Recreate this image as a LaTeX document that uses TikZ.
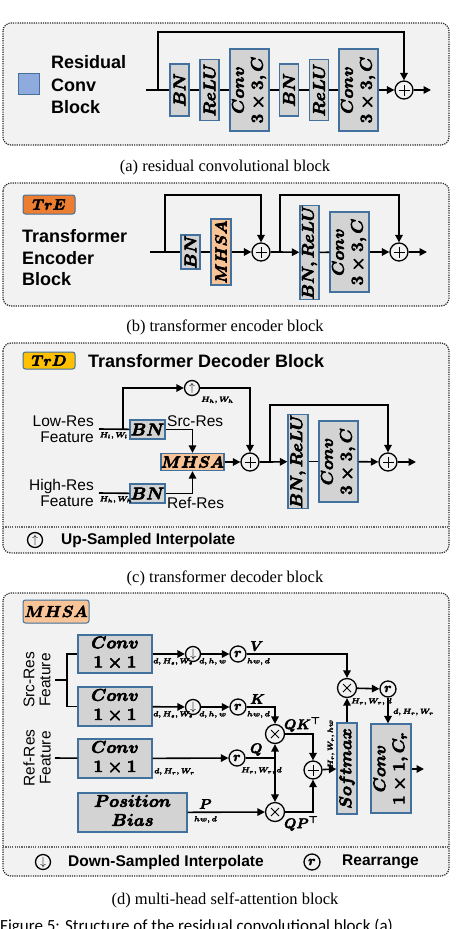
\RequirePackage{fix-cm}
\documentclass[tikz,border=0pt]{standalone}
\usepackage[no-math]{fontspec}
\setmainfont{Liberation Serif}
\setsansfont{Liberation Sans}
\newfontfamily\figfont{Carlito}
\usepackage{graphicx}
\usetikzlibrary{arrows.meta,calc}
\definecolor{panelbg}{HTML}{F2F2F2}
\definecolor{bgray}{HTML}{D3D3D3}
\definecolor{bblue}{HTML}{41719C}
\definecolor{sqblue}{HTML}{8FAADC}
\definecolor{tre}{HTML}{ED7D31}
\definecolor{mhsa}{HTML}{F8C497}
\definecolor{trd}{HTML}{FFC000}
\newcommand{\rtx}[1]{\rotatebox{90}{#1}}
\newcommand{\two}[2]{\begin{tabular}{@{}c@{}}$#1$\\$#2$\end{tabular}}
\newcommand{\heavyon}[1]{\special{pdf:code q 0 G 2 Tr #1 w}}
\newcommand{\heavyoff}{\special{pdf:code Q}}
\tikzset{
  heavy/.style={execute at begin node={\heavyon{#1}}, execute at end node={\heavyoff}},
  panel/.style={draw=black!85, fill=panelbg, line width=1.2pt, dash pattern=on 1.2pt off 1.1pt, rounded corners=8pt},
  divider/.style={draw=black!60, line width=1.1pt, dash pattern=on 1.2pt off 1.1pt},
  blk/.style={draw=bblue, fill=bgray, line width=1.3pt, inner sep=0pt, heavy=0.6, font=\boldmath\fontsize{17}{19}\selectfont},
  bx/.style n args={2}{blk, minimum width=#1pt, minimum height=#2pt},
  tagbox/.style={draw=bblue, line width=1pt, rounded corners=2.5pt, inner sep=0pt, heavy=0.5, font=\boldmath\fontsize{15}{17}\selectfont},
  ln/.style={line width=1.6pt},
  arr/.style={line width=1.6pt, -{Triangle[length=7.5pt,width=7.5pt]}},
  oplus/.style={circle, draw, line width=1.3pt, minimum size=18pt, inner sep=0pt, fill=panelbg,
    path picture={\draw[line width=1pt] ($(path picture bounding box.center)+(-5.5pt,0pt)$) -- ($(path picture bounding box.center)+(5.5pt,0pt)$);
                  \draw[line width=1pt] ($(path picture bounding box.center)+(0pt,-5.5pt)$) -- ($(path picture bounding box.center)+(0pt,5.5pt)$);}},
  otimes/.style={circle, draw, line width=1.3pt, minimum size=19pt, inner sep=0pt, fill=panelbg,
    path picture={\draw[line width=1pt] ($(path picture bounding box.center)+(-4pt,-4pt)$) -- ($(path picture bounding box.center)+(4pt,4pt)$);
                  \draw[line width=1pt] ($(path picture bounding box.center)+(-4pt,4pt)$) -- ($(path picture bounding box.center)+(4pt,-4pt)$);}},
  circ/.style={circle, draw, line width=1.3pt, minimum size=15pt, inner sep=0pt, fill=panelbg, font=\fontsize{12}{12}\selectfont},
  rc/.style={circle, draw, line width=1.3pt, minimum size=16pt, inner sep=0pt, fill=panelbg, heavy=0.4, font=\boldmath\fontsize{14}{14}\selectfont},
  lb/.style={inner sep=0pt, heavy=0.2, font=\boldmath\fontsize{7.5}{8}\selectfont},
  lbig/.style={inner sep=0pt, heavy=0.4, font=\boldmath\fontsize{14}{16}\selectfont},
  ttl/.style={inner sep=0pt, anchor=west, align=left, font=\sffamily\bfseries\fontsize{18}{21.5}\selectfont},
  txt/.style={inner sep=0pt, font=\sffamily\fontsize{15.5}{16}\selectfont},
  leg/.style={inner sep=0pt, anchor=west, font=\sffamily\bfseries\fontsize{15.5}{17}\selectfont},
  captxt/.style={inner sep=0pt, font=\fontsize{16.5}{18}\selectfont}
}
\begin{document}
\begin{tikzpicture}[x=1pt,y=-1pt]
\useasboundingbox (0,0) rectangle (474,929);
% ---------------- (a)
\draw[panel] (3,23) rectangle (449,145);
\node[draw=bblue, fill=sqblue, line width=1pt, minimum size=21pt, inner sep=0pt] (sq) at (28.5,84) {};
\node[ttl, font=\sffamily\bfseries\fontsize{18}{22.5}\selectfont] (ta) at (51,85) {Residual\\Conv\\Block};
\coordinate (ain) at (146,90);
\coordinate (askip) at (158,90);
\node[bx={19}{52}] (abn1) at (179.5,90) {\rtx{$BN$}};
\node[bx={19}{61}] (arl1) at (209.5,90) {\rtx{$ReLU$}};
\node[bx={39}{82}] (acv1) at (249.5,90) {\rtx{\two{Conv}{3\times3,C}}};
\node[bx={19}{52}] (abn2) at (289,90) {\rtx{$BN$}};
\node[bx={19}{61}] (arl2) at (319,90) {\rtx{$ReLU$}};
\node[bx={39}{82}] (acv2) at (358.5,90) {\rtx{\two{Conv}{3\times3,C}}};
\node[oplus] (apl) at (404,90) {};
\coordinate (aout) at (431,90);
\draw[ln] (ain) -- (abn1) -- (arl1) -- (acv1) -- (abn2) -- (arl2) -- (acv2);
\draw[arr] (acv2) -- (apl);
\draw[arr] (apl) -- (aout);
\draw[arr] (askip) -- ++(0,-58) -| (apl);
\node[captxt] (capa) at (225,168) {(a) residual convolutional block};
% ---------------- (b)
\draw[panel] (3,183) rectangle (449,306);
\node[tagbox, fill=tre, minimum width=52pt, minimum height=19pt] (tre) at (49,204.5) {$TrE$};
\node[ttl] (tb) at (22,258) {Transformer\\Encoder\\Block};
\coordinate (bin) at (150,252);
\coordinate (bs1) at (165,252);
\node[bx={19}{34}] (bbn) at (190.5,252) {\rtx{$BN$}};
\node[bx={20}{66}, fill=mhsa, font=\boldmath\fontsize{16}{18}\selectfont] (bmh) at (221,252) {\rtx{$MHSA$}};
\node[oplus] (bp1) at (261,252) {};
\coordinate (bs2) at (280,252);
\node[bx={19}{91}] (bbr) at (309.5,252.5) {\rtx{$BN,ReLU$}};
\node[bx={39}{80}] (bcv) at (349.5,252) {\rtx{\two{Conv}{3\times3,C}}};
\node[oplus] (bp2) at (399,252) {};
\coordinate (bout) at (427,252);
\draw[ln] (bin) -- (bbn) -- (bmh);
\draw[arr] (bmh) -- (bp1);
\draw[ln] (bp1) -- (bs2);
\draw[arr] (bs2) -- (bbr);
\draw[ln] (bbr) -- (bcv);
\draw[arr] (bcv) -- (bp2);
\draw[arr] (bp2) -- (bout);
\draw[arr] (bs1) -- ++(0,-57) -| (bp1);
\draw[arr] (bs2) -- ++(0,-57) -| (bp2);
\node[captxt] (capb) at (225,327) {(b) transformer encoder block};
% ---------------- (c)
\draw[panel] (3,343) rectangle (449,553);
\draw[divider] (3,527) -- (449,527);
\node[tagbox, fill=trd, minimum width=52pt, minimum height=17pt] (trdtag) at (49,360.5) {$TrD$};
\node[ttl] (tc) at (88,361) {Transformer Decoder Block};
\node[txt, anchor=east, align=right] (lowres) at (94,429) {Low-Res\\Feature};
\node[txt, anchor=east, align=right] (highres) at (94,493) {High-Res\\Feature};
\coordinate (cin1) at (99,429);
\coordinate (cb) at (123,429);
\node[bx={35}{19}] (cbn1) at (147.5,429.5) {$BN$};
\node[circ] (cup) at (192,388) {$\uparrow$};
\node[lb, anchor=north west] (lhl) at (99.5,432) {$H_l,W_l$};
\node[lb, anchor=west] (lhh1) at (201,400) {$H_h,W_h$};
\node[bx={59}{17}, fill=mhsa, font=\boldmath\fontsize{16}{18}\selectfont] (cmh) at (192.5,462) {$MHSA$};
\node[oplus] (cp1) at (250,462) {};
\node[bx={35}{19}] (cbn2) at (147.5,493.5) {$BN$};
\coordinate (cin2) at (99,493);
\node[lb, anchor=north west] (lhh2) at (99.5,496) {$H_h,W_h$};
\node[txt, anchor=west] (srcres) at (167,421) {Src-Res};
\node[txt, anchor=west] (refres) at (167,503) {Ref-Res};
\draw[ln] (cin1) -- (cbn1);
\draw[arr] (cb) |- (cup);
\draw[arr] (cup) -| (cp1);
\draw[arr] (cbn1) -| (cmh);
\draw[ln] (cin2) -- (cbn2);
\draw[arr] (cbn2) -| (cmh);
\draw[arr] (cmh) -- (cp1);
\coordinate (cj) at (270,462);
\node[bx={20}{91}] (cbr) at (298,461.5) {\rtx{$BN,ReLU$}};
\node[bx={39}{81}] (ccv) at (338.5,461.5) {\rtx{\two{Conv}{3\times3,C}}};
\node[oplus] (cp2) at (388,462) {};
\coordinate (cout) at (416,462);
\draw[ln] (cp1) -- (cj);
\draw[arr] (cj) -- (cbr);
\draw[ln] (cbr) -- (ccv);
\draw[arr] (ccv) -- (cp2);
\draw[arr] (cp2) -- (cout);
\draw[arr] (cj) -- ++(0,-57) -| (cp2);
\node[circ] (cleg) at (35,540) {$\uparrow$};
\node[leg] (cleg2) at (61,540) {Up-Sampled Interpolate};
\node[captxt] (capc) at (225,578) {(c) transformer decoder block};
% ---------------- (d)
\draw[panel] (3,593) rectangle (449,876);
\draw[divider] (3,847) -- (449,847);
\node[tagbox, fill=mhsa, minimum width=66pt, minimum height=23pt, font=\boldmath\fontsize{16}{18}\selectfont] (dtag) at (56,611.5) {$MHSA$};
\node[txt, rotate=90, align=center] (dsrc) at (37,680) {Src-Res\\Feature};
\node[txt, rotate=90, align=center] (dref) at (37,758) {Ref-Res\\Feature};
\coordinate (sfin) at (55,680);
\coordinate (sj) at (67,680);
\coordinate (rfin) at (55,758);
\node[bx={74}{38}] (dc1) at (115,654) {\two{Conv}{1\times1}};
\node[bx={74}{39}] (dc2) at (115,706.5) {\two{Conv}{1\times1}};
\node[bx={74}{39}] (dc3) at (115,758.5) {\two{Conv}{1\times1}};
\node[bx={109}{39}] (dpb) at (132.5,812.5) {\two{Position}{Bias}};
\draw[ln] (sfin) -- (sj);
\draw[ln] (sj) |- (dc1);
\draw[ln] (sj) |- (dc2);
\draw[ln] (rfin) -- (dc3);
% V row
\node[circ] (dv1) at (193,654) {$\downarrow$};
\node[rc] (rv) at (238,654) {$r$};
\node[otimes] (tm1) at (347,688) {};
\draw[arr] (dc1) -- (dv1);
\draw[arr] (dv1) -- (rv);
\draw[arr] (rv) -| (tm1);
\node[lb, anchor=north west] (l1) at (153,658) {$d,H_s,W_s$};
\node[lb, anchor=north west] (l2) at (199,658) {$d,h,w$};
\node[lbig, anchor=south west] (lv) at (250,651) {$V$};
\node[lb, anchor=north west] (l3) at (247,658) {$hw,d$};
% K row
\node[circ] (dk1) at (193,707) {$\downarrow$};
\node[rc] (rk) at (238,707) {$r$};
\node[otimes] (tqk) at (275,734) {};
\draw[arr] (dc2) -- (dk1);
\draw[arr] (dk1) -- (rk);
\draw[arr] (rk) -| (tqk);
\node[lb, anchor=north west] (l4) at (153,711) {$d,H_s,W_s$};
\node[lb, anchor=north west] (l5) at (199,711) {$d,h,w$};
\node[lbig, anchor=south west] (lk) at (250,704) {$K$};
\node[lb, anchor=north west] (l6) at (247,711) {$hw,d$};
\node[lbig, anchor=south west] (lqk) at (284,732) {$QK^{\top}$};
% Q row
\node[rc] (rq) at (237,758) {$r$};
\coordinate (qj) at (275,758);
\node[otimes] (tqp) at (275,812) {};
\draw[arr] (dc3) -- (rq);
\draw[ln] (rq) -- (qj);
\draw[arr] (qj) -- (tqk);
\draw[arr] (qj) -- (tqp);
\node[lb, anchor=north west] (l7) at (154,768) {$d,H_r,W_r$};
\node[lbig, anchor=south west] (lq) at (250,756) {$Q$};
\node[lb, anchor=north west] (l8) at (241,767) {$H_r,W_r,d$};
% P row
\draw[arr] (dpb) -- (tqp);
\node[lbig, anchor=south west] (lp) at (199,809) {$P$};
\node[lb, anchor=north west] (l9) at (194,816) {$hw,d$};
\node[lbig, anchor=north west] (lqp) at (284,816) {$QP^{\top}$};
% sum, softmax
\node[oplus] (pls) at (313,770) {};
\draw[arr] (tqk) -| (pls);
\draw[arr] (tqp) -| (pls);
\node[bx={20}{91}] (dsm) at (347,768.5) {\rtx{$Softmax$}};
\draw[arr] (pls) -- (dsm);
\node[lb, rotate=90] (l10) at (331,744) {$H_r,W_r,hw$};
\draw[arr] (dsm) -- (tm1);
\node[rc] (rr) at (388,689) {$r$};
\draw[arr] (tm1) -- (rr);
\node[lb, anchor=north west] (l11) at (351,698) {$H_r,W_r,d$};
\node[bx={40}{89}] (dcf) at (391,768.5) {\rtx{\two{Conv}{1\times1,C_r}}};
\draw[arr] (rr.south) -- (rr.south |- dcf.north);
\node[lb, anchor=west] (l12) at (393,712) {$d,H_r,W_r$};
\coordinate (dout) at (424,769);
\draw[arr] (dcf.east |- dout) -- (dout);
% legend
\node[circ] (dleg1) at (43,862) {$\downarrow$};
\node[leg] (dleg2) at (68,862) {Down-Sampled Interpolate};
\node[rc] (dleg3) at (312,862) {$r$};
\node[leg] (dleg4) at (342,862) {Rearrange};
\node[captxt] (capd) at (225,900) {(d) multi-head self-attention block};
\begin{scope}
\clip (0,0) rectangle (474,929);
\node[inner sep=0pt, anchor=base west, font=\figfont\fontsize{17}{19}\selectfont] (fig) at (0,931) {Figure 5: Structure of the residual convolutional block (a)};
\end{scope}
\end{tikzpicture}
\end{document}
